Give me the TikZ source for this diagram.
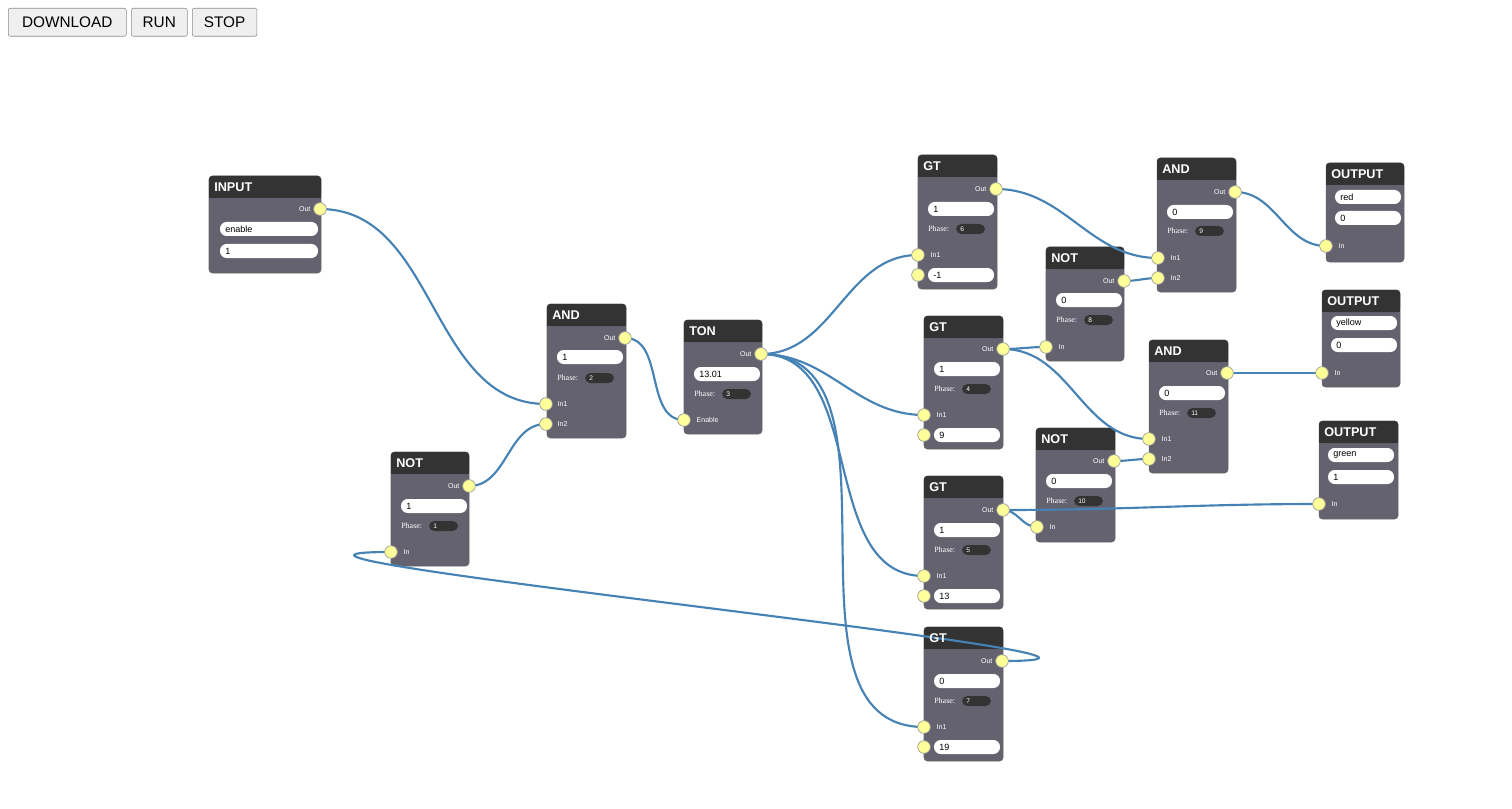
\documentclass[tikz,border=0pt]{standalone}
\usepackage{fontspec}
\setmainfont{Liberation Sans}
\newfontfamily\phasefont{Liberation Serif}
\usetikzlibrary{backgrounds}
\pgfdeclarelayer{links}
\pgfsetlayers{background,links,main}

\definecolor{blkbody}{HTML}{64626F}
\definecolor{blkhead}{HTML}{333333}
\definecolor{portyel}{HTML}{FFFF99}
\definecolor{linkblue}{HTML}{4682B4}
\definecolor{btnfill}{HTML}{EFEFEF}

\tikzset{
  title/.style={anchor=west, text=white, font=\fontsize{9.5}{10}\selectfont\bfseries, inner sep=0pt},
  port/.style={circle, fill=portyel, draw=gray!80, line width=0.5pt, inner sep=0pt, minimum size=9.5pt},
  plbl/.style={text=white, font=\fontsize{5.3}{6}\selectfont, inner sep=1pt},
  ftxt/.style={anchor=west, font=\fontsize{6.8}{7}\selectfont, inner sep=0pt},
  link/.style={draw=linkblue, line width=1.6pt},
  btn/.style={draw=gray!90, fill=btnfill, rounded corners=1.5pt, font=\fontsize{11.5}{12}\selectfont,
    minimum height=21pt, inner sep=0pt, anchor=north west},
}

% box with header: name, x, y, w, h, title
\newcommand\blkbox[6]{%
  \begin{pgfonlayer}{background}
  \fill[blkbody, rounded corners=2.5pt] (#2,#3) rectangle ++(#4,#5);
  \draw[black!60, rounded corners=2.5pt, line width=0.4pt] (#2,#3) rectangle ++(#4,#5);
  \fill[blkhead, rounded corners=2.5pt] (#2,#3) rectangle ++(#4,22);
  \fill[blkhead] ([shift={(0,12)}]#2,#3) rectangle ++(#4,10);
  \end{pgfonlayer}
  \node[title] (#1) at ([shift={(5,11)}]#2,#3) {#6};}
% white field: x, y, w, text
\newcommand\blkfield[4]{%
  \begin{pgfonlayer}{background}
  \fill[white, rounded corners=5pt] ([shift={(0,-7)}]#1,#2) rectangle ++(#3,14);
  \end{pgfonlayer}
  \node[ftxt] at ([shift={(5,0)}]#1,#2) {#4};}
% phase line: x, y, number
\newcommand\blkphase[3]{%
  \node[anchor=west, text=white, font=\fontsize{6}{6}\phasefont, inner sep=0pt] at (#1,#2) {Phase:};
  \begin{pgfonlayer}{background}
  \fill[blkhead, rounded corners=4pt] ([shift={(28,-5)}]#1,#2) rectangle ++(29,10);
  \end{pgfonlayer}
  \node[anchor=west, text=white, font=\fontsize{5}{5}\selectfont, inner sep=0pt] at ([shift={(32,0)}]#1,#2) {#3};}

\begin{document}
\begin{tikzpicture}[x=0.75pt, y=-0.75pt]
\useasboundingbox (0,0) rectangle (1512,809);

% buttons
\node[btn, minimum width=88.5pt] (bdl) at (8,8) {DOWNLOAD};
\node[btn, minimum width=42pt] (brun) at (131,8) {RUN};
\node[btn, minimum width=48.5pt] (bstop) at (192,8) {STOP};

% INPUT
\blkbox{inp}{209}{176}{112}{97}{INPUT}
\node[port] (inp-out) at (320,209) {};
\node[plbl, anchor=east] at (312,209) {Out};
\blkfield{220}{229}{98}{enable}
\blkfield{220}{251}{98}{1}

% AND 1
\blkbox{andA}{547}{304}{79}{134}{AND}
\node[port] (andA-out) at (625,338) {};
\node[plbl, anchor=east] at (617,338) {Out};
\blkfield{557}{357}{66}{1}
\blkphase{557}{378}{2}
\node[port] (andA-in1) at (546,404) {};
\node[plbl, anchor=west] at (556,404) {In1};
\node[port] (andA-in2) at (546,424) {};
\node[plbl, anchor=west] at (556,424) {In2};

% NOT 1
\blkbox{notA}{391}{452}{78}{114}{NOT}
\node[port] (notA-out) at (469,486) {};
\node[plbl, anchor=east] at (461,486) {Out};
\blkfield{401}{506}{66}{1}
\blkphase{401}{526}{1}
\node[port] (notA-in) at (391,552) {};
\node[plbl, anchor=west] at (402,552) {In};

% TON
\blkbox{ton}{684}{320}{78}{114}{TON}
\node[port] (ton-out) at (761,354) {};
\node[plbl, anchor=east] at (753,354) {Out};
\blkfield{694}{374}{66}{13.01}
\blkphase{694}{394}{3}
\node[port] (ton-en) at (684,420) {};
\node[plbl, anchor=west] at (695,420) {Enable};

% GT 1
\blkbox{gtA}{918}{155}{79}{134}{GT}
\node[port] (gtA-out) at (996,189) {};
\node[plbl, anchor=east] at (988,189) {Out};
\blkfield{928}{209}{66}{1}
\blkphase{928}{229}{6}
\node[port] (gtA-in1) at (918,255) {};
\node[plbl, anchor=west] at (929,255) {In1};
\node[port] (gtA-in2) at (918,275) {};
\blkfield{928}{275}{66}{-1}

% GT 2
\blkbox{gtB}{924}{316}{79}{133}{GT}
\node[port] (gtB-out) at (1003,349) {};
\node[plbl, anchor=east] at (995,349) {Out};
\blkfield{934}{369}{66}{1}
\blkphase{934}{389}{4}
\node[port] (gtB-in1) at (924,415) {};
\node[plbl, anchor=west] at (935,415) {In1};
\node[port] (gtB-in2) at (924,435) {};
\blkfield{934}{435}{66}{9}

% GT 3
\blkbox{gtC}{924}{476}{79}{133}{GT}
\node[port] (gtC-out) at (1003,510) {};
\node[plbl, anchor=east] at (995,510) {Out};
\blkfield{934}{530}{66}{1}
\blkphase{934}{550}{5}
\node[port] (gtC-in1) at (924,576) {};
\node[plbl, anchor=west] at (935,576) {In1};
\node[port] (gtC-in2) at (924,596) {};
\blkfield{934}{596}{66}{13}

% GT 4
\blkbox{gtD}{924}{627}{79}{134}{GT}
\node[port] (gtD-out) at (1002,661) {};
\node[plbl, anchor=east] at (994,661) {Out};
\blkfield{934}{681}{66}{0}
\blkphase{934}{701}{7}
\node[port] (gtD-in1) at (924,727) {};
\node[plbl, anchor=west] at (935,727) {In1};
\node[port] (gtD-in2) at (924,747) {};
\blkfield{934}{747}{66}{19}

% NOT 2
\blkbox{notB}{1046}{247}{78}{114}{NOT}
\node[port] (notB-out) at (1124,281) {};
\node[plbl, anchor=east] at (1116,281) {Out};
\blkfield{1056}{300}{66}{0}
\blkphase{1056}{320}{8}
\node[port] (notB-in) at (1046,347) {};
\node[plbl, anchor=west] at (1057,347) {In};

% AND 2
\blkbox{andB}{1157}{158}{79}{134}{AND}
\node[port] (andB-out) at (1235,192) {};
\node[plbl, anchor=east] at (1227,192) {Out};
\blkfield{1167}{212}{66}{0}
\blkphase{1167}{231}{9}
\node[port] (andB-in1) at (1158,258) {};
\node[plbl, anchor=west] at (1169,258) {In1};
\node[port] (andB-in2) at (1158,278) {};
\node[plbl, anchor=west] at (1169,278) {In2};

% NOT 3
\blkbox{notC}{1036}{428}{79}{114}{NOT}
\node[port] (notC-out) at (1114,461) {};
\node[plbl, anchor=east] at (1106,461) {Out};
\blkfield{1046}{481}{66}{0}
\blkphase{1046}{501}{10}
\node[port] (notC-in) at (1037,527) {};
\node[plbl, anchor=west] at (1048,527) {In};

% AND 3
\blkbox{andC}{1149}{340}{79}{133}{AND}
\node[port] (andC-out) at (1227,373) {};
\node[plbl, anchor=east] at (1219,373) {Out};
\blkfield{1159}{393}{66}{0}
\blkphase{1159}{413}{11}
\node[port] (andC-in1) at (1149,439) {};
\node[plbl, anchor=west] at (1160,439) {In1};
\node[port] (andC-in2) at (1149,459) {};
\node[plbl, anchor=west] at (1160,459) {In2};

% OUTPUTs
\blkbox{outA}{1326}{163}{78}{99}{OUTPUT}
\blkfield{1335}{197}{66}{red}
\blkfield{1335}{218}{66}{0}
\node[port] (outA-in) at (1326,246) {};
\node[plbl, anchor=west] at (1337,246) {In};

\blkbox{outB}{1322}{290}{78}{97}{OUTPUT}
\blkfield{1331}{323}{66}{yellow}
\blkfield{1331}{345}{66}{0}
\node[port] (outB-in) at (1322,373) {};
\node[plbl, anchor=west] at (1333,373) {In};

\blkbox{outC}{1319}{421}{79}{98}{OUTPUT}
\blkfield{1328}{455}{66}{green}
\blkfield{1328}{477}{66}{1}
\node[port] (outC-in) at (1319,504) {};
\node[plbl, anchor=west] at (1330,504) {In};

% links
\begin{pgfonlayer}{links}
\draw[link] (inp-out.center) to[out=0, in=180] (andA-in1.center);
\draw[link] (notA-out.center) to[out=0, in=180] (andA-in2.center);
\draw[link] (andA-out.center) to[out=0, in=180] (ton-en.center);
\draw[link] (ton-out.center) to[out=0, in=180] (gtA-in1.center);
\draw[link] (ton-out.center) to[out=0, in=180] (gtB-in1.center);
\draw[link] (ton-out.center) to[out=0, in=180] (gtC-in1.center);
\draw[link] (ton-out.center) to[out=0, in=180] (gtD-in1.center);
\draw[link] (gtA-out.center) to[out=0, in=180] (andB-in1.center);
\draw[link] (notB-out.center) to[out=0, in=180] (andB-in2.center);
\draw[link] (andB-out.center) to[out=0, in=180] (outA-in.center);
\draw[link] (gtB-out.center) to[out=0, in=180] (notB-in.center);
\draw[link] (gtB-out.center) to[out=0, in=180] (andC-in1.center);
\draw[link] (notC-out.center) to[out=0, in=180] (andC-in2.center);
\draw[link] (andC-out.center) to[out=0, in=180] (outB-in.center);
\draw[link] (gtC-out.center) to[out=0, in=180] (notC-in.center);
\draw[link] (gtC-out.center) to[out=0, in=180] (outC-in.center);
\draw[link] (gtD-out.center) .. controls +(250,0) and +(-250,0) .. (notA-in.center);
\end{pgfonlayer}
\end{tikzpicture}
\end{document}
